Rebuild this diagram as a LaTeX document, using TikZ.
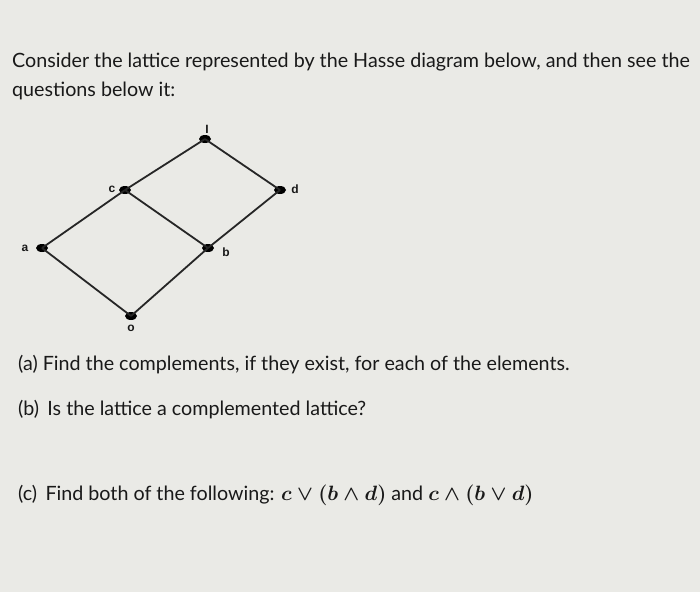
\documentclass[tikz,border=0pt]{standalone}
\usepackage{amsmath}
\usepackage{fontspec}
\setmainfont{Lato}
\newfontfamily\lblfont{Liberation Sans}
\usetikzlibrary{shapes.geometric}
\definecolor{bgcol}{RGB}{234,234,230}
\definecolor{txtcol}{RGB}{25,25,25}
\begin{document}
\begin{tikzpicture}[x=1pt,y=-1pt,
  vtx/.style={ellipse,fill=black,inner sep=0pt,minimum width=12pt,minimum height=8pt},
  lbl/.style={font=\lblfont\bfseries\fontsize{12}{12}\selectfont,text=black!90,inner sep=0pt},
  edge/.style={line width=1.8pt,black!85},
  para/.style={anchor=base west,inner sep=0pt,text=txtcol,font=\fontsize{19.7}{23}\selectfont}]
\fill[bgcol] (0,0) rectangle (700,592);
\useasboundingbox (0,0) rectangle (700,592);
% text
\node[para] (t1) at (12,67) {Consider the lattice represented by the Hasse diagram below, and then see the};
\node[para] (t2) at (12,96) {questions below it:};
\node[para] (qa) at (18,370) {(a) Find the complements, if they exist, for each of the elements.};
\node[para] (qb) at (18,415) {(b)\, Is the lattice a complemented lattice?};
\node[para] (qc) at (18,500) {(c)\, Find both of the following: $\boldsymbol{c\vee(b\wedge d)}$ and $\boldsymbol{c\wedge(b\vee d)}$};
% vertices
\node[vtx] (I) at (205,139) {};
\node[vtx] (c) at (125,190) {};
\node[vtx] (d) at (280,190) {};
\node[vtx] (a) at (42,248) {};
\node[vtx] (b) at (208,248) {};
\node[vtx] (o) at (131,316) {};
% edges
\draw[edge] (o.center) -- (a.center);
\draw[edge] (o.center) -- (b.center);
\draw[edge] (a.center) -- (c.center);
\draw[edge] (b.center) -- (c.center);
\draw[edge] (b.center) -- (d.center);
\draw[edge] (c.center) -- (I.center);
\draw[edge] (d.center) -- (I.center);
% labels
\node[lbl] (lI) at (207,129) {I};
\node[lbl] (lc) at (112,189) {c};
\node[lbl] (ld) at (295,189) {d};
\node[lbl] (la) at (25,248) {a};
\node[lbl] (lb) at (226,252) {b};
\node[lbl] (lo) at (131,328) {o};
\end{tikzpicture}
\end{document}
